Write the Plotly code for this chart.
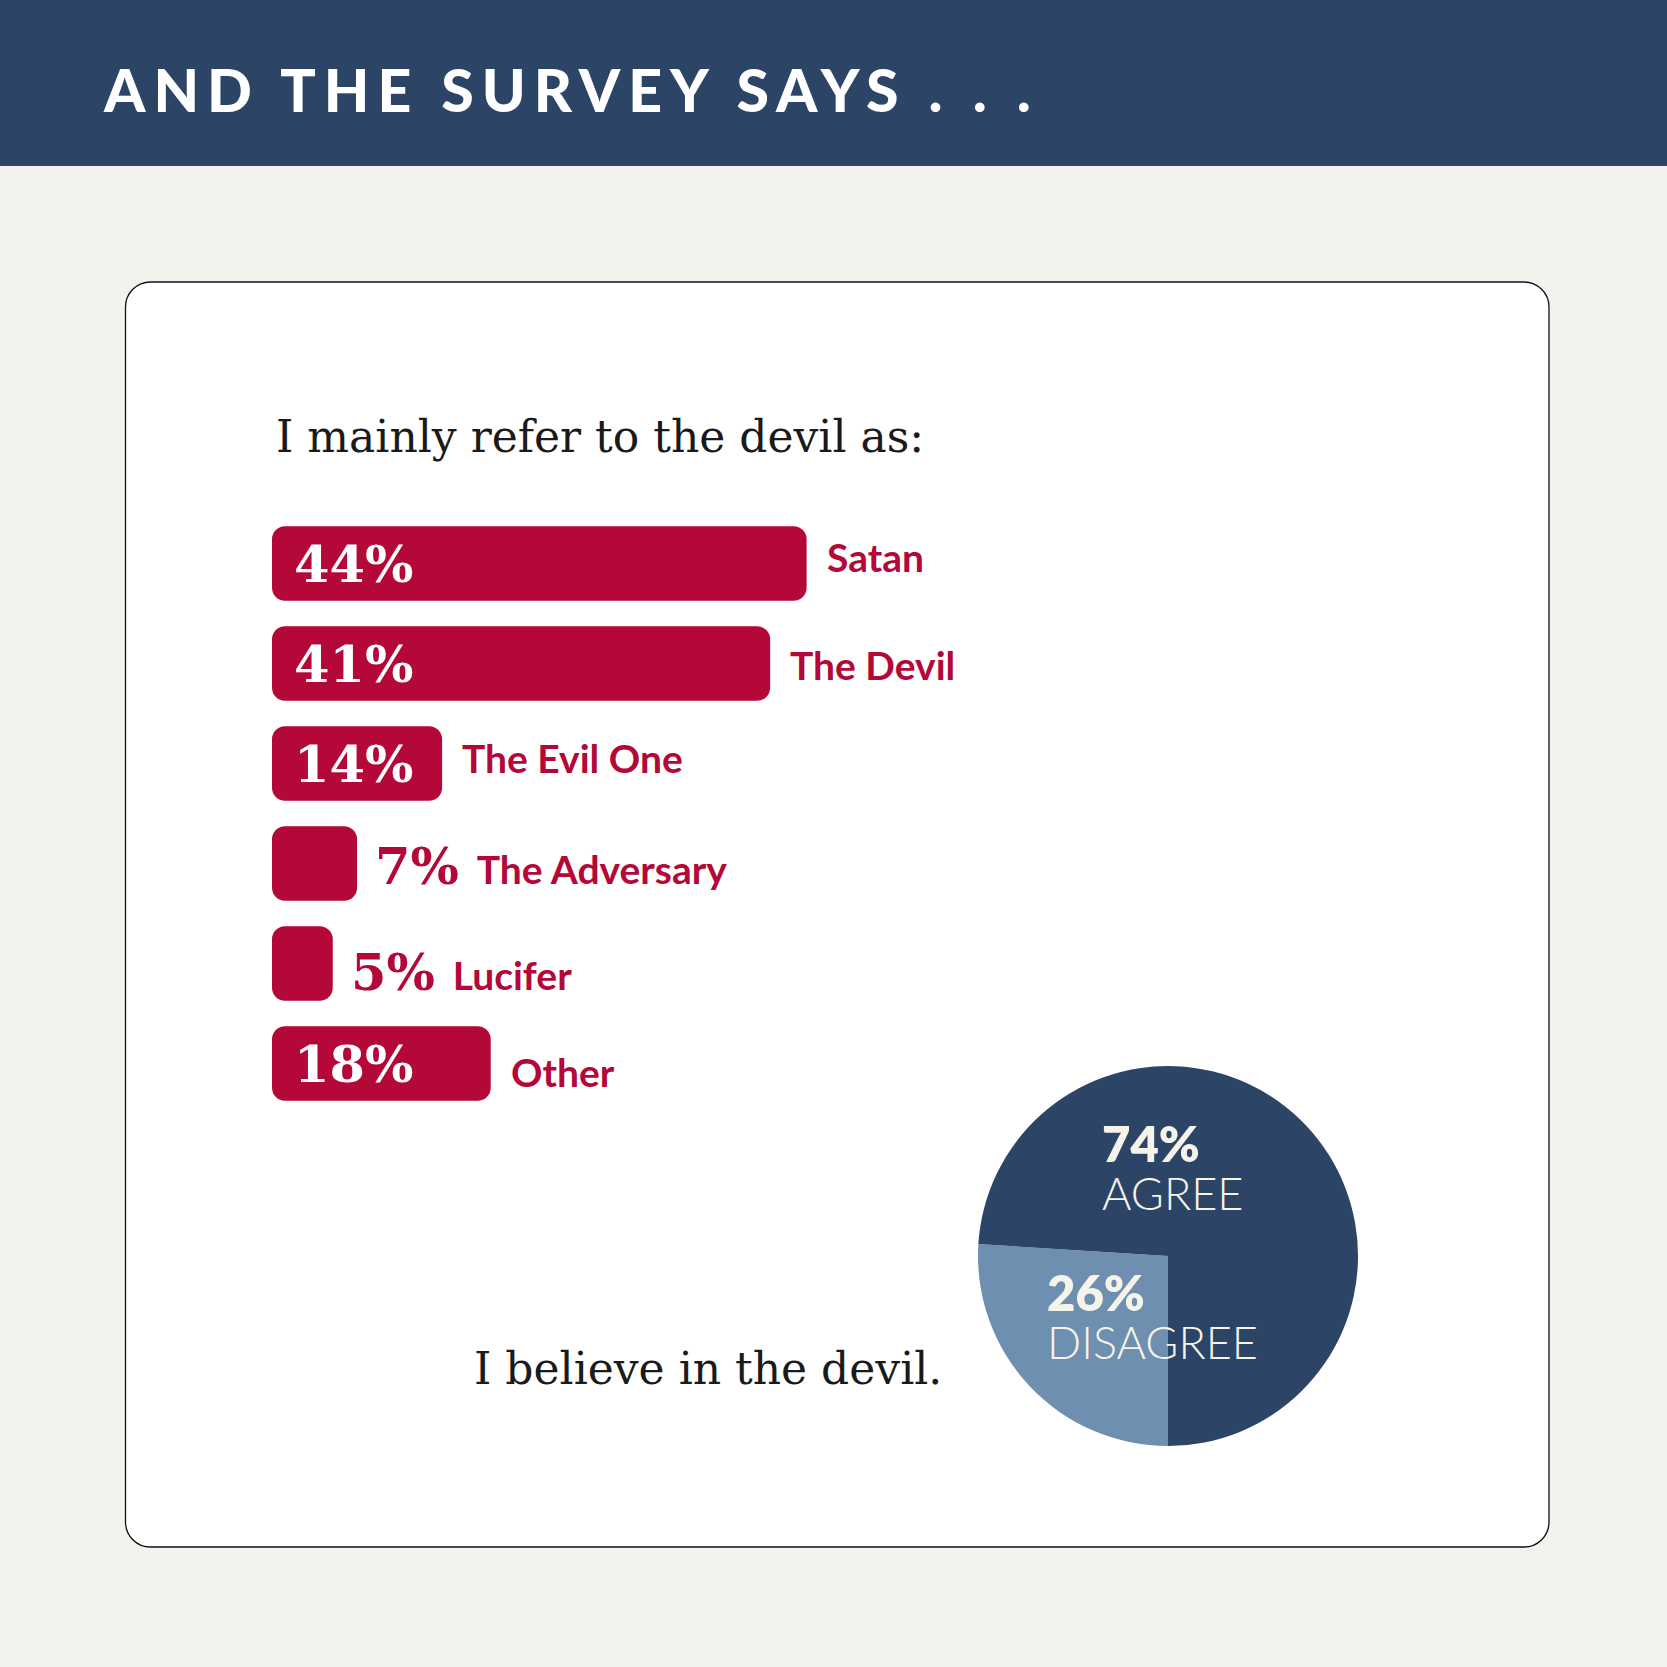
import plotly.graph_objects as go

W = H = 1667

# ---------------- data ----------------
CATEGORIES = ["Satan", "The Devil", "The Evil One", "The Adversary", "Lucifer", "Other"]
PERCENTS = [44, 41, 14, 7, 5, 18]
PIE_LABELS = ["DISAGREE", "AGREE"]
PIE_VALUES = [26, 74]

TITLE = "AND THE SURVEY SAYS . . ."
BAR_QUESTION = "I mainly refer to the devil as:"
PIE_QUESTION = "I believe in the devil."

# ---------------- styles ----------------
NAVY = "#2c4466"
STEEL = "#6e8fb0"
CRIMSON = "#b30838"
BG = "#f3f2ec"
CREAM = "#f5f3ea"
INK = "#1a1a1a"
SERIF = "DejaVu Serif"
SANS = "Lato"

PX_PER_PCT = 12.15
BAR_X0 = 272
BAR_X1 = 1400
LABEL_DY = [-7, 1, -6, 2, 8, 8]   # small vertical nudges of category labels (px, +down)


def px(x):
    return x / W


def py(y):
    return 1 - y / H


fig = go.Figure()

# an explicit base makes plotly round both ends of each bar
fig.add_trace(go.Bar(
    x=PERCENTS, base=[0] * len(PERCENTS), y=CATEGORIES, orientation="h",
    marker=dict(color=CRIMSON, cornerradius=13, line=dict(width=0)),
    width=0.744, hoverinfo="skip", showlegend=False,
))

fig.add_trace(go.Pie(
    labels=PIE_LABELS, values=PIE_VALUES, sort=False, direction="clockwise",
    rotation=180, marker=dict(colors=[STEEL, NAVY], line=dict(width=0)),
    textinfo="none", hoverinfo="skip", showlegend=False,
    domain=dict(x=[px(978), px(1358)], y=[py(1446), py(1066)]),
))

annotations = []

# bar labels
for cat, val, dy in zip(CATEGORIES, PERCENTS, LABEL_DY):
    if val >= 10:
        annotations.append(dict(
            x=0, y=cat, xref="x", yref="y", xanchor="left", yanchor="middle",
            xshift=20, showarrow=False, text=f"<b>{val}%</b>",
            font=dict(family=SERIF, size=51, color="white"),
        ))
        annotations.append(dict(
            x=val, y=cat, xref="x", yref="y", xanchor="left", yanchor="middle",
            xshift=18, yshift=-dy, showarrow=False, text=cat,
            font=dict(family=SANS, size=39, color=CRIMSON, weight=700),
        ))
    else:
        annotations.append(dict(
            x=val, y=cat, xref="x", yref="y", xanchor="left", yanchor="middle",
            xshift=16, yshift=-dy, showarrow=False,
            text=(f"<span style='font-family:{SERIF};font-size:51px;font-weight:bold'>{val}% </span>"
                  f"{cat}"),
            font=dict(family=SANS, size=39, color=CRIMSON, weight=700),
        ))

# headings
annotations.append(dict(
    x=px(101), y=py(90), xref="paper", yref="paper", xanchor="left", yanchor="middle",
    showarrow=False, text=f"<span style='letter-spacing:8px'>{TITLE}</span>",
    font=dict(family=SANS, size=59, color="white", weight=900),
))
annotations.append(dict(
    x=px(274), y=py(436), xref="paper", yref="paper", xanchor="left", yanchor="middle",
    showarrow=False, text=BAR_QUESTION, font=dict(family=SERIF, size=44, color=INK),
))
annotations.append(dict(
    x=px(472), y=py(1368), xref="paper", yref="paper", xanchor="left", yanchor="middle",
    showarrow=False, text=PIE_QUESTION, font=dict(family=SERIF, size=44, color=INK),
))

# pie labels
pie_pos = {"AGREE": (1100, 1143, 1193), "DISAGREE": (1045, 1292, 1342)}
for lab, val in zip(PIE_LABELS, PIE_VALUES):
    x0, yp, yl = pie_pos[lab]
    annotations.append(dict(
        x=px(x0), y=py(yp), xref="paper", yref="paper", xanchor="left", yanchor="middle",
        showarrow=False, text=f"{val}%",
        font=dict(family=SANS, size=49, color=CREAM, weight=800),
    ))
    annotations.append(dict(
        x=px(x0), y=py(yl), xref="paper", yref="paper", xanchor="left", yanchor="middle",
        showarrow=False, text=lab,
        font=dict(family=SANS, size=45, color=CREAM, weight=300),
    ))

# card with rounded corners
x0, x1, y0, y1, r = 125.5, 1549, 282, 1547, 25
k = 0.5523 * r
card = (
    f"M {px(x0 + r)},{py(y0)} L {px(x1 - r)},{py(y0)} "
    f"C {px(x1 - r + k)},{py(y0)} {px(x1)},{py(y0 + r - k)} {px(x1)},{py(y0 + r)} "
    f"L {px(x1)},{py(y1 - r)} "
    f"C {px(x1)},{py(y1 - r + k)} {px(x1 - r + k)},{py(y1)} {px(x1 - r)},{py(y1)} "
    f"L {px(x0 + r)},{py(y1)} "
    f"C {px(x0 + r - k)},{py(y1)} {px(x0)},{py(y1 - r + k)} {px(x0)},{py(y1 - r)} "
    f"L {px(x0)},{py(y0 + r)} "
    f"C {px(x0)},{py(y0 + r - k)} {px(x0 + r - k)},{py(y0)} {px(x0 + r)},{py(y0)} Z"
)

shapes = [
    dict(type="rect", xref="paper", yref="paper", x0=0, x1=1, y0=py(166), y1=1,
         fillcolor=NAVY, line=dict(width=0), layer="below"),
    dict(type="path", xref="paper", yref="paper", path=card,
         fillcolor="white", line=dict(color="#111111", width=1.3), layer="below"),
]

fig.update_layout(
    width=W, height=H, margin=dict(l=0, r=0, t=0, b=0),
    paper_bgcolor=BG, plot_bgcolor="rgba(0,0,0,0)",
    xaxis=dict(domain=[px(BAR_X0), px(BAR_X1)], range=[0, (BAR_X1 - BAR_X0) / PX_PER_PCT],
               visible=False, fixedrange=True),
    yaxis=dict(domain=[py(1113.5), py(513.5)], range=[5.5, -0.5], type="category",
               visible=False, fixedrange=True),
    shapes=shapes, annotations=annotations,
)

fig.write_html("out.html")
